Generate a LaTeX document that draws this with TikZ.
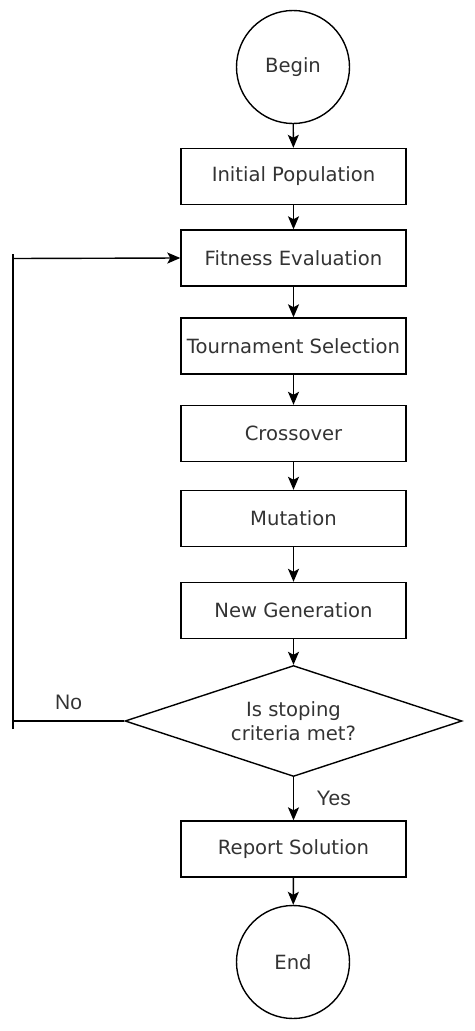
\documentclass[tikz,border=0pt]{standalone}
\usepackage{fontspec}
\setmainfont{DejaVu Sans}
\newfontfamily\labelfont{Liberation Sans}
\usepackage{tikz}
\usetikzlibrary{calc, shapes.geometric, arrows.meta}
\usepackage{xcolor}
\definecolor{text_grey}{HTML}{333333}

\begin{document}
\begin{tikzpicture}[x=1pt, y=-1pt, line width=1.4pt,
	stepbox/.style={draw, rectangle, minimum width=225pt, minimum height=56pt, inner sep=0pt, text=text_grey, font=\fontsize{19.6}{23.5}\selectfont},
	endpoint/.style={draw, circle, minimum size=113pt, inner sep=0pt, text=text_grey, font=\fontsize{19.6}{23.5}\selectfont},
	flow/.style={line width=1.4pt, -{Stealth[length=13pt, width=11pt, inset=3pt]}}]
	\useasboundingbox (0, 0) rectangle (474, 1031);
	\node[endpoint] (begin) at (293, 67) {Begin};
	\node[stepbox] (init) at (293.5, 176.5) {Initial Population};
	\node[stepbox] (fitness) at (293.5, 258) {Fitness Evaluation};
	\node[stepbox] (tournament) at (293.5, 346) {Tournament Selection};
	\node[stepbox] (crossover) at (293.5, 433.5) {Crossover};
	\node[stepbox] (mutation) at (293.5, 518.5) {Mutation};
	\node[stepbox] (newgen) at (293.5, 610.5) {New Generation};
	\node[draw, diamond, aspect=3, minimum width=337pt, minimum height=111pt, inner sep=0pt, align=center, text=text_grey, font=\fontsize{19.6}{23.5}\selectfont] (stop) at (293.5, 721) {Is stoping\\criteria met?};
	\node[stepbox] (report) at (293.5, 849) {Report Solution};
	\node[endpoint] (end) at (293, 962) {End};
	\coordinate (loopbot) at (13, 721);
	\coordinate (looptop) at (13, 258.5);
	\draw[flow] (begin) -- (init);
	\draw[flow] (init) -- (fitness);
	\draw[flow] (fitness) -- (tournament);
	\draw[flow] (tournament) -- (crossover);
	\draw[flow] (crossover) -- (mutation);
	\draw[flow] (mutation) -- (newgen);
	\draw[flow] (newgen) -- (stop);
	\draw[flow] (stop) -- (report) node[midway, right=19pt, text=text_grey, font=\labelfont\fontsize{21}{25}\selectfont] {Yes};
	\draw[flow] (report) -- (end);
	\draw (stop.west) -- (loopbot) node[midway, above=7pt, text=text_grey, font=\labelfont\fontsize{21}{25}\selectfont] {No};
	\draw ($(loopbot) + (0, 8)$) -- ($(looptop) + (0, -4.5)$);
	\draw[flow] (looptop) -- (fitness.west);
\end{tikzpicture}
\end{document}
